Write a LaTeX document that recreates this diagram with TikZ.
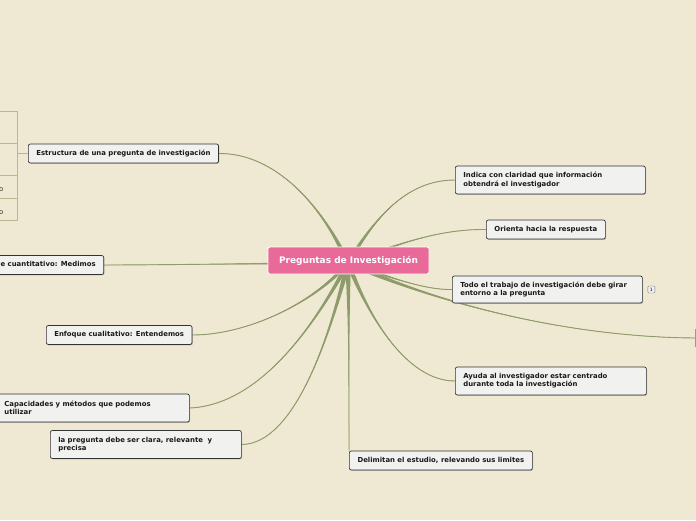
\documentclass[tikz,border=0pt]{standalone}
\usepackage{fontspec}
\setmainfont{DejaVu Sans}
\usepackage{tikz}
\usetikzlibrary{calc}
\usetikzlibrary{positioning, shadows, backgrounds}

\definecolor{fondo}{HTML}{EFE8D3}
\definecolor{rosa}{HTML}{E96A98}
\definecolor{oliva}{HTML}{8E9B6A}
\definecolor{oliva2}{HTML}{B6B98F}
\definecolor{caja}{HTML}{F1F1F0}

\tikzset{
  tema/.style={draw=black!80, fill=caja, rounded corners=2pt, line width=0.7pt,
    anchor=west, align=left, inner xsep=8pt, inner ysep=0pt,
    font=\fontsize{6.9}{8.2}\selectfont\bfseries, text=black!90,
    drop shadow={shadow xshift=0.8pt, shadow yshift=-0.8pt, opacity=0.45}},
  raizbox/.style={draw=white, fill=rosa, rounded corners=2pt, line width=0.8pt,
    minimum width=161pt, minimum height=27pt, inner sep=0pt,
    font=\fontsize{9}{10}\selectfont\bfseries, text=white},
  rama/.style={draw=oliva, line width=0.9pt},
  ramafill/.style={fill=oliva},
  tabla/.style={draw=oliva2, line width=0.6pt}
}

% rama gruesa en la raiz y fina en la hoja
\newcommand{\rama}[3]{%
  \fill[ramafill] ($(centro)+(-2.8,0)$) .. controls #2 and #3 .. (#1) .. controls #3 and #2 .. ($(centro)+(2.8,0)$) -- cycle;
  \fill[ramafill] ($(centro)+(0,-2.8)$) .. controls #2 and #3 .. (#1) .. controls #3 and #2 .. ($(centro)+(0,2.8)$) -- cycle;
  \draw[rama] (centro) .. controls #2 and #3 .. (#1);
}

\begin{document}
\begin{tikzpicture}[x=1pt, y=-1pt]
    \clip (0,0) rectangle (696,520);
    \coordinate (centro) at (348,263);

    \node (raiz) [raizbox] at (348.5,260.5) {Preguntas de Investigación};

    % lado izquierdo
    \node (estructura) [tema, minimum width=190pt, minimum height=19pt] at (28,153.5) {Estructura de una pregunta de investigación};
    \node (medimos) [tema, anchor=east, minimum height=19pt] at (104,265) {Enfoque cuantitativo: Medimos};
    \node (entendemos) [tema, minimum width=145pt, minimum height=19pt] at (46,335) {Enfoque cualitativo: Entendemos};
    \node (capacidades) [tema, text width=177pt, minimum height=28pt] at (-4,408) {Capacidades y métodos que podemos\\utilizar};
    \node (clara) [tema, text width=175pt, minimum height=28pt] at (50,444.5) {la pregunta debe ser clara, relevante\ \ y\\precisa};
    \node (delimitan) [tema, minimum width=183pt, minimum height=19pt] at (349,460.5) {Delimitan el estudio, relevando sus limites};

    % lado derecho
    \node (indica) [tema, text width=174pt, minimum height=28pt] at (455,180) {Indica con claridad que información\\obtendrá el investigador};
    \node (orienta) [tema, minimum width=119pt, minimum height=19pt] at (486,229.5) {Orienta hacia la respuesta};
    \node (todo) [tema, text width=174pt, minimum height=27pt] at (452,289.5) {Todo el trabajo de investigación debe girar\\entorno a la pregunta};
    \node (ayuda) [tema, text width=175pt, minimum height=28pt] at (455,381) {Ayuda al investigador estar centrado\\durante toda la investigación};
    \node (uno) [draw=black!55, fill=caja, rounded corners=1pt, line width=0.4pt, inner sep=0.8pt,
        minimum width=7pt, minimum height=7pt, font=\fontsize{4.5}{5}\selectfont, right=5pt of todo] {1};

    % hijos cortados por el borde
    \node (hijo) [draw=black!40, fill=caja, minimum width=30pt, minimum height=17pt, anchor=west] at (695,338) {};
    \coordinate (t1) at (0,111);
    \coordinate (t2) at (0,143);
    \coordinate (t3) at (0,175);
    \coordinate (t4) at (0,198);
    \coordinate (t5) at (0,220);
    \coordinate (barra) at (17,153.5);
    \draw[tabla] (t1) -- ++(17,0) -- (17,220) -- (t5);
    \draw[tabla] (t2) -- ++(17,0);
    \draw[tabla] (t3) -- ++(17,0);
    \draw[tabla] (t4) -- ++(17,0);
    \draw[tabla] (barra) -- (estructura.west);
    \node (cola1) [anchor=east, inner sep=0pt, font=\fontsize{6.9}{8}\selectfont, text=black!80] at (3.5,189.5) {o};
    \node (cola2) [anchor=east, inner sep=0pt, font=\fontsize{6.9}{8}\selectfont, text=black!80] at (3.5,212.5) {o};

    \begin{scope}[on background layer]
        \fill[fondo] (0,0) rectangle (696,520);
        \rama{estructura.east}{(322,205)}{(275,153)}
        \rama{medimos.east}{(300,263)}{(160,265)}
        \rama{entendemos.east}{(312,305)}{(245,335)}
        \rama{capacidades.east}{(312,330)}{(258,405)}
        \rama{clara.east}{(330,335)}{(295,444)}
        \rama{delimitan.north west}{(349,330)}{(349,400)}
        \rama{indica.west}{(378,212)}{(410,180)}
        \rama{orienta.west}{(400,243)}{(440,229)}
        \rama{todo.west}{(392,278)}{(425,290)}
        \rama{hijo.west}{(430,300)}{(560,337)}
        \rama{ayuda.west}{(372,325)}{(410,381)}
    \end{scope}
\end{tikzpicture}
\end{document}
